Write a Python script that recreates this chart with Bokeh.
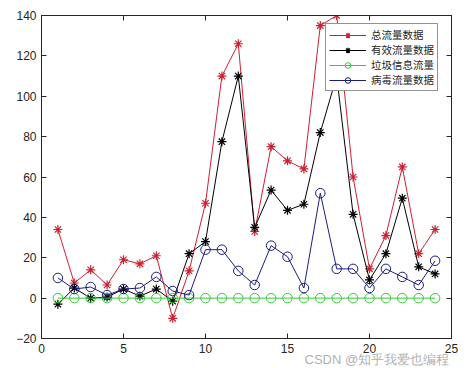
from bokeh.plotting import figure
from bokeh.models import Range1d, LinearAxis, Legend, Title, FixedTicker
from bokeh.embed import file_html
from bokeh.resources import INLINE

x = list(range(1, 25))
total = [34, 7.5, 14, 6.5, 19, 17, 21, -10, 13.5, 47, 110, 126, 33, 75, 68, 64, 135, 140, 60, 14.5, 31, 65, 22, 34]
valid = [-3, 5, 0, 0.5, 4.5, 1, 4.5, -1.5, 22, 28, 77.5, 110, 35, 53.5, 43.5, 46.5, 82, 110, 41.5, 9, 22, 49.5, 15.5, 12]
junk = [0] * 24
virus = [10, 4.5, 5.5, 1.5, 4.5, 5, 10.5, 3.5, 1.5, 24, 24, 13.5, 6.5, 26, 20.5, 5, 52, 14.5, 14.5, 5, 14.5, 10.5, 6.5, 18.5]

names = ["总流量数据", "有效流量数据", "垃圾信息流量", "病毒流量数据"]
colors = ["#cc2030", "#000000", "#33cc33", "#1c1c80"]
markers = ["asterisk", "asterisk", "circle", "circle"]
series = [total, valid, junk, virus]

x_ticks = [0, 5, 10, 15, 20, 25]
y_ticks = [-20, 0, 20, 40, 60, 80, 100, 120, 140]

p = figure(width=474, height=368, output_backend="svg", toolbar_location=None,
           x_range=Range1d(0, 25), y_range=Range1d(-20, 140),
           min_border_left=41, min_border_right=23, min_border_top=15, min_border_bottom=30,
           x_axis_type=None, y_axis_type=None)
p.grid.visible = False
p.outline_line_color = "#262626"
p.outline_line_width = 1
p.background_fill_color = "white"
p.border_fill_color = "white"

def style_axis(ax, labels=True):
    ax.major_tick_in = 5
    ax.major_tick_out = 0
    ax.minor_tick_line_color = None
    ax.axis_line_color = "#262626"
    ax.major_tick_line_color = "#262626"
    ax.major_label_text_font = "Liberation Sans"
    ax.major_label_text_font_size = "12px"
    ax.major_label_text_color = "#262626"
    ax.major_label_standoff = 5
    if not labels:
        ax.major_label_text_alpha = 0
        ax.major_label_text_font_size = "1px"
        ax.major_label_standoff = 0

xb = LinearAxis(ticker=FixedTicker(ticks=x_ticks)); style_axis(xb)
xt = LinearAxis(ticker=FixedTicker(ticks=x_ticks)); style_axis(xt, False)
yl = LinearAxis(ticker=FixedTicker(ticks=y_ticks)); style_axis(yl)
yr = LinearAxis(ticker=FixedTicker(ticks=y_ticks)); style_axis(yr, False)
p.add_layout(xb, "below")
p.add_layout(xt, "above")
p.add_layout(yl, "left")
p.add_layout(yr, "right")

wm = Title(text="CSDN @知乎我爱也编程", align="left", offset=263, standoff=-12,
           text_font="Liberation Sans", text_font_size="13px", text_font_style="normal",
           text_color="#9a9a9a", text_alpha=0.8)
p.add_layout(wm, "below")

items = []
for name, col, mk, ys in zip(names, colors, markers, series):
    r1 = p.line(x, ys, line_color=col, line_width=1)
    if mk == "circle":
        r2 = p.scatter(x, ys, marker="circle", size=9.5, line_color=col, fill_color=None, line_width=1)
    else:
        r2 = p.scatter(x, ys, marker="asterisk", size=9, line_color=col, line_width=1.2)
    items.append((name, [r1, r2]))

legend = Legend(items=items, location=(284, 247), margin=0, padding=3, spacing=0,
                glyph_width=37, glyph_height=14, label_height=14, label_standoff=5,
                label_text_font="Noto Sans CJK SC", label_text_font_size="10.5px",
                label_text_color="#262626",
                border_line_color="#262626", border_line_width=1,
                background_fill_color="white", background_fill_alpha=1)
p.add_layout(legend, "center")

open("out.html", "w").write(file_html(p, INLINE))
